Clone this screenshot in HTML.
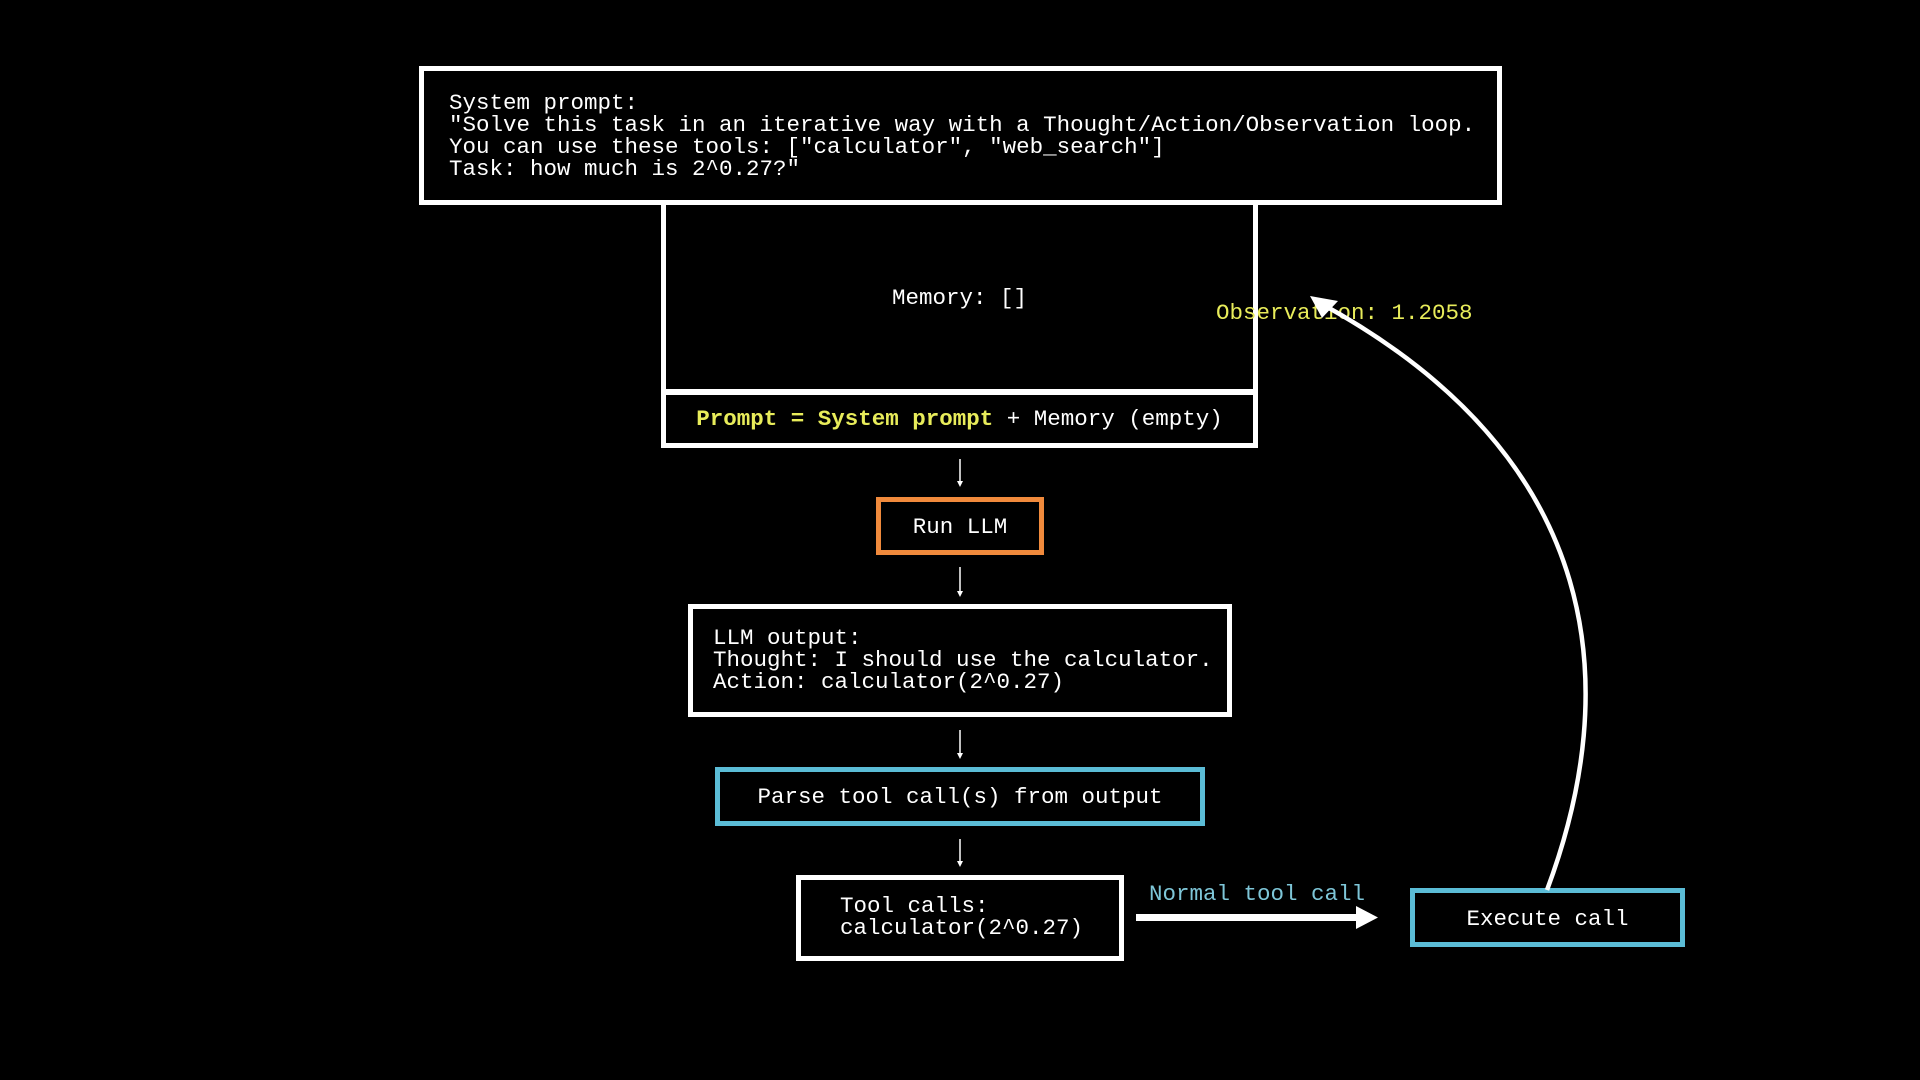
<!DOCTYPE html>
<html><head><style>
body{margin:0;width:1920px;height:1080px;background:#000;position:relative;overflow:hidden;font-family:"Liberation Mono","DejaVu Sans Mono",monospace;color:#fff;font-size:22.5px;}
.b{position:absolute;box-sizing:border-box;border:5px solid #fff;}
.t{position:absolute;white-space:pre;line-height:22px;}
.c{display:flex;align-items:center;justify-content:center;}
.y{color:#e8ec5a;font-weight:bold}
</style></head><body>
<div class="b" style="left:419px;top:66px;width:1083px;height:139px;"></div>
<div class="t" style="left:449px;top:92px;">System prompt:
"Solve this task in an iterative way with a Thought/Action/Observation loop.
You can use these tools: ["calculator", "web_search"]
Task: how much is 2^0.27?"</div>
<div class="b c" style="left:661px;top:200px;width:597px;height:194px;padding-top:2px;">Memory: []</div>
<div class="b c" style="left:661px;top:390px;width:597px;height:58px;"><span><span class="y">Prompt = System prompt</span> + Memory (empty)</span></div>
<div class="b c" style="left:876px;top:497px;width:168px;height:58px;border-color:#f08a3c;padding-top:2px;">Run LLM</div>
<div class="b" style="left:688px;top:604px;width:544px;height:113px;"></div>
<div class="t" style="left:713px;top:627px;">LLM output:
Thought: I should use the calculator.
Action: calculator(2^0.27)</div>
<div class="b c" style="left:715px;top:767px;width:490px;height:59px;border-color:#5bbcd6;">Parse tool call(s) from output</div>
<div class="b" style="left:796px;top:875px;width:328px;height:86px;"></div>
<div class="t" style="left:840px;top:895px;">Tool calls:
calculator(2^0.27)</div>
<div class="t" style="left:1149px;top:883px;color:#7ec6d8;">Normal tool call</div>
<div class="b c" style="left:1410px;top:888px;width:275px;height:59px;border-color:#5bbcd6;padding-top:2px;">Execute call</div>
<div class="t" style="left:1216px;top:302px;color:#e8ec5a;">Observation: 1.2058</div>
<svg width="1920" height="1080" style="position:absolute;left:0;top:0" fill="none">
<g stroke="#fff" stroke-width="1.5">
<line x1="960" y1="459" x2="960" y2="482"/><line x1="960" y1="567" x2="960" y2="592"/>
<line x1="960" y1="730" x2="960" y2="754"/><line x1="960" y1="839" x2="960" y2="862"/>
</g>
<g fill="#fff">
<polygon points="957,481 963,481 960,487"/><polygon points="957,591 963,591 960,597"/>
<polygon points="957,753 963,753 960,759"/><polygon points="957,861 963,861 960,867"/>
<rect x="1136" y="914" width="222" height="7"/>
<polygon points="1356,906 1378,917.5 1356,929"/>
<polygon points="1310,296 1338,301 1322,318"/>
</g>
<path d="M1547 890 C1622 690 1608 460 1320 303" stroke="#fff" stroke-width="4.5"/>
</svg>
</body></html>
